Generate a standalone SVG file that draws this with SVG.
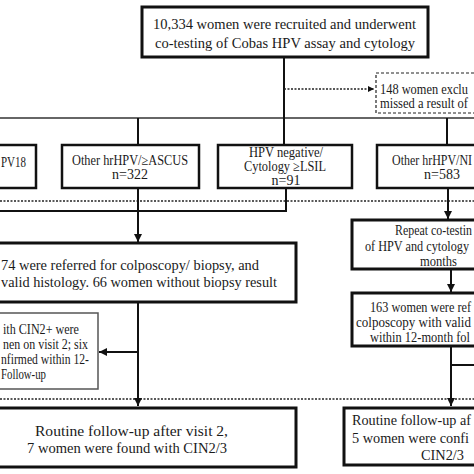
<svg xmlns="http://www.w3.org/2000/svg" width="474" height="474" viewBox="0 0 474 474">
<style>
text{font-family:"Liberation Serif","Times New Roman",serif;fill:#1a1a1a;font-size:14px}
.c{text-anchor:middle}
.thick{fill:#fff;stroke:#111;stroke-width:3}
.mid{fill:#fff;stroke:#111;stroke-width:2.5}
.thin{fill:#fff;stroke:#555;stroke-width:1.5}
.dash{fill:#fff;stroke:#222;stroke-width:1.2;stroke-dasharray:3,2}
.ln{fill:none;stroke:#111;stroke-width:2}
.dot{fill:none;stroke:#222;stroke-width:1.5;stroke-dasharray:2,1.5}
</style>
<defs>
<marker id="ah" viewBox="0 0 10 10" refX="10" refY="5" markerWidth="4" markerHeight="4" orient="auto"><path d="M0,0L10,5L0,10z" fill="#111"/></marker>
</defs>
<rect width="474" height="474" fill="#fff"/>
<g id="connectors">
<line x1="0" y1="118" x2="474" y2="118" stroke="#666" stroke-width="2"/>
<line class="ln" x1="284" y1="57" x2="284" y2="144"/>
<line class="ln" x1="138" y1="118" x2="138" y2="144"/>
<line class="ln" x1="447" y1="118" x2="447" y2="144"/>
<line class="dot" x1="284" y1="89" x2="374" y2="89" marker-end="url(#ah)"/>
<line class="dot" x1="0" y1="201" x2="474" y2="201"/>
<line class="dot" x1="0" y1="399" x2="474" y2="399"/>
<polyline class="ln" points="0,211 286,211 286,188"/>
<line class="ln" x1="138" y1="188" x2="138" y2="242" marker-end="url(#ah)"/>
<line class="ln" x1="138" y1="302" x2="138" y2="406" marker-end="url(#ah)"/>
<line class="ln" x1="138" y1="352" x2="99" y2="352" marker-end="url(#ah)"/>
<line class="ln" x1="448" y1="188" x2="448" y2="219" marker-end="url(#ah)"/>
<line class="ln" x1="451" y1="269" x2="451" y2="292" marker-end="url(#ah)"/>
<line class="ln" x1="451" y1="346" x2="451" y2="406" marker-end="url(#ah)"/>
<line class="ln" x1="451" y1="365" x2="474" y2="365"/>
</g>
<g id="top">
<rect class="thick" x="142" y="7" width="286" height="50"/>
<text x="153" y="29" font-size="15" textLength="263" lengthAdjust="spacingAndGlyphs">10,334 women were recruited and underwent</text>
<text x="155" y="48" font-size="15" textLength="260" lengthAdjust="spacingAndGlyphs">co-testing of Cobas HPV assay and cytology</text>
</g>
<g id="excluded">
<path class="dash" d="M474,73H376V113H474"/>
<text x="380" y="94" font-size="13" textLength="88" lengthAdjust="spacingAndGlyphs">148 women exclu</text>
<text x="380" y="108" font-size="13" textLength="88" lengthAdjust="spacingAndGlyphs">missed a result of</text>
</g>
<g id="hpv18">
<path class="mid" d="M0,145H36V188H0"/>
<text x="1" y="167" font-size="14" textLength="25" lengthAdjust="spacingAndGlyphs">PV18</text>
</g>
<g id="ascus">
<rect class="mid" x="62" y="145" width="137" height="43"/>
<text x="72" y="165" font-size="13.5" textLength="116" lengthAdjust="spacingAndGlyphs">Other hrHPV/≥ASCUS</text>
<text class="c" x="130" y="179" font-size="13.5">n=322</text>
</g>
<g id="hpvneg">
<rect class="mid" x="218" y="145" width="134" height="43"/>
<text x="249" y="157" font-size="13.5" textLength="74" lengthAdjust="spacingAndGlyphs">HPV negative/</text>
<text x="244" y="171" font-size="13.5" textLength="82" lengthAdjust="spacingAndGlyphs">Cytology ≥LSIL</text>
<text class="c" x="286" y="185" font-size="13.5">n=91</text>
</g>
<g id="nilm">
<path class="mid" d="M474,145H377V188H474"/>
<text x="392" y="165" font-size="13.5" textLength="80" lengthAdjust="spacingAndGlyphs">Other hrHPV/NI</text>
<text class="c" x="442" y="179" font-size="13.5">n=583</text>
</g>
<g id="colpo">
<path class="thick" d="M0,243H296V302H0"/>
<text x="1" y="270" font-size="15" textLength="258" lengthAdjust="spacingAndGlyphs">74 were referred for colposcopy/ biopsy, and</text>
<text x="1" y="287" font-size="15" textLength="276" lengthAdjust="spacingAndGlyphs">valid histology. 66 women without biopsy result</text>
</g>
<g id="cin2">
<path class="thin" d="M0,313H98V389H0"/>
<text x="3" y="334" font-size="14.5" textLength="76" lengthAdjust="spacingAndGlyphs">ith CIN2+ were</text>
<text x="3" y="349" font-size="14.5" textLength="85" lengthAdjust="spacingAndGlyphs">nen on visit 2; six</text>
<text x="1" y="364" font-size="14.5" textLength="88" lengthAdjust="spacingAndGlyphs">nfirmed within 12-</text>
<text x="1" y="379" font-size="14.5" textLength="45" lengthAdjust="spacingAndGlyphs">Follow-up</text>
</g>
<g id="repeat">
<path class="thick" d="M474,220H352V269H474"/>
<text x="395" y="235" font-size="13.5" textLength="77" lengthAdjust="spacingAndGlyphs">Repeat co-testin</text>
<text x="365" y="251" font-size="13.5" textLength="104" lengthAdjust="spacingAndGlyphs">of HPV and cytology</text>
<text x="420" y="266" font-size="13.5" textLength="37" lengthAdjust="spacingAndGlyphs">months</text>
</g>
<g id="ref163">
<path class="thick" d="M474,293H352V346H474"/>
<text x="370" y="312" font-size="14" textLength="101" lengthAdjust="spacingAndGlyphs">163 women were ref</text>
<text x="356" y="327" font-size="14" textLength="115" lengthAdjust="spacingAndGlyphs">colposcopy with valid</text>
<text x="370" y="342" font-size="14" textLength="100" lengthAdjust="spacingAndGlyphs">within 12-month fol</text>
</g>
<g id="routine1">
<path class="thick" d="M0,408H296V467H0"/>
<text x="35" y="436" font-size="17" textLength="193" lengthAdjust="spacingAndGlyphs">Routine follow-up after visit 2,</text>
<text x="27" y="453" font-size="17" textLength="200" lengthAdjust="spacingAndGlyphs">7 women were found with CIN2/3</text>
</g>
<g id="routine2">
<path class="thick" d="M474,408H344V465H474"/>
<text x="352" y="425" font-size="15" textLength="119" lengthAdjust="spacingAndGlyphs">Routine follow-up af</text>
<text x="352" y="443" font-size="15" textLength="117" lengthAdjust="spacingAndGlyphs">5 women were confi</text>
<text x="421" y="460" font-size="15" textLength="43" lengthAdjust="spacingAndGlyphs">CIN2/3</text>
</g>
</svg>
